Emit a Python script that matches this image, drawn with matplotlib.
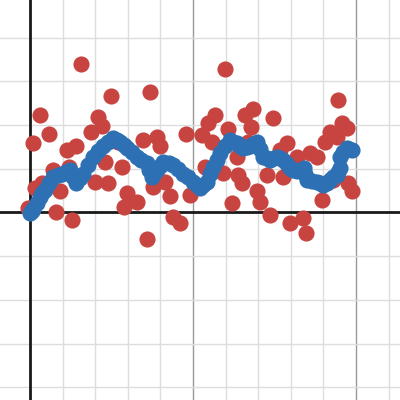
import matplotlib
matplotlib.use("Agg")
import matplotlib.pyplot as plt

red_x = [0.08,0.31,0.59,-0.05,0.15,0.36,0.72,0.80,0.92,1.28,1.12,1.41,1.21,1.58,1.86,2.10,2.20,1.99,2.40,2.50,2.30,2.71,2.81,2.97,2.88,3.27,3.48,3.68,3.89,3.99,3.78,4.14,4.29,3.58,4.40,4.60,4.79,4.91,5.27,5.47,5.67,5.57,5.37,5.98,6.08,5.93,6.19,6.34,6.39,6.49,6.60,6.85,6.77,6.70,6.95,7.06,7.26,7.36,7.46,7.67,7.87,7.77,7.98,8.38,8.47,8.18,8.59,8.79,8.95,9.05,9.20,9.46,9.56,9.71,9.76,9.87,9.41,9.30]
red_y = [1.60,2.23,1.79,0.10,0.55,0.67,0.96,0.0,0.48,-0.17,1.43,1.52,1.05,3.39,1.85,2.19,1.98,0.70,0.68,2.67,1.16,1.62,1.05,0.44,0.12,0.25,1.66,2.76,1.73,1.51,0.59,0.70,0.38,-0.61,-0.10,-0.23,1.79,0.40,1.77,2.04,2.23,1.62,1.05,3.28,1.90,0.90,0.21,1.28,0.86,0.67,2.23,2.36,1.96,1.62,0.48,0.25,0.86,-0.06,2.16,1.43,1.58,0.82,-0.25,-0.13,-0.48,1.28,1.35,1.28,0.29,1.62,1.85,2.57,2.04,1.93,0.67,0.50,1.73,0.74]

blue_x = [0.0,0.05,0.10,0.20,0.31,0.38,0.46,0.59,0.72,0.85,0.97,1.10,1.23,1.32,1.41,1.52,1.64,1.79,1.94,2.10,2.25,2.40,2.56,2.66,2.76,2.87,2.97,3.12,3.27,3.42,3.58,3.65,3.73,3.81,3.89,3.99,4.09,4.25,4.40,4.55,4.70,4.86,5.01,5.11,5.21,5.32,5.42,5.52,5.62,5.73,5.83,5.98,6.14,6.24,6.34,6.44,6.54,6.65,6.75,6.85,6.95,7.05,7.16,7.26,7.36,7.47,7.57,7.67,7.77,7.88,7.98,8.08,8.18,8.29,8.39,8.44,8.49,8.64,8.79,8.89,8.99,9.10,9.20,9.31,9.41,9.46,9.51,9.51,9.61,9.71,9.79,9.87]
blue_y = [-0.02,0.03,0.09,0.22,0.36,0.44,0.51,0.67,0.82,0.86,0.89,0.93,0.97,0.82,0.67,0.78,0.89,1.08,1.28,1.40,1.51,1.61,1.70,1.66,1.62,1.55,1.47,1.38,1.28,1.21,1.13,0.98,0.82,0.90,0.97,1.07,1.16,1.13,1.09,0.99,0.89,0.80,0.70,0.62,0.55,0.62,0.70,0.88,1.05,1.20,1.35,1.51,1.66,1.62,1.58,1.52,1.47,1.49,1.51,1.57,1.62,1.45,1.28,1.24,1.20,1.24,1.28,1.24,1.20,1.10,1.01,0.97,0.94,0.97,1.01,0.88,0.74,0.72,0.70,0.67,0.63,0.68,0.74,0.80,0.86,0.93,1.01,1.28,1.38,1.47,1.45,1.43]

fig = plt.figure(figsize=(4, 4), dpi=100)
ax = fig.add_axes([0, 0, 1, 1])
ax.set_xlim(-0.92, 11.35)
ax.set_ylim(-4.29, 4.86)
for v in range(-1, 12):
    ax.axvline(v, color='#999999' if v % 5 == 0 else '#dddddd', lw=1.0, zorder=0)
for v in range(-5, 6):
    ax.axhline(v, color='#999999' if v % 5 == 0 else '#dddddd', lw=1.0, zorder=0)
ax.axvline(0, color='#1a1a1a', lw=2, zorder=1)
ax.axhline(0, color='#1a1a1a', lw=2, zorder=1)
ax.scatter(red_x, red_y, s=135, color='#c74440', linewidths=0, zorder=2)
ax.scatter(blue_x, blue_y, s=135, color='#2d70b3', linewidths=0, zorder=3)
ax.axis('off')
fig.savefig('out.png', dpi=100)
